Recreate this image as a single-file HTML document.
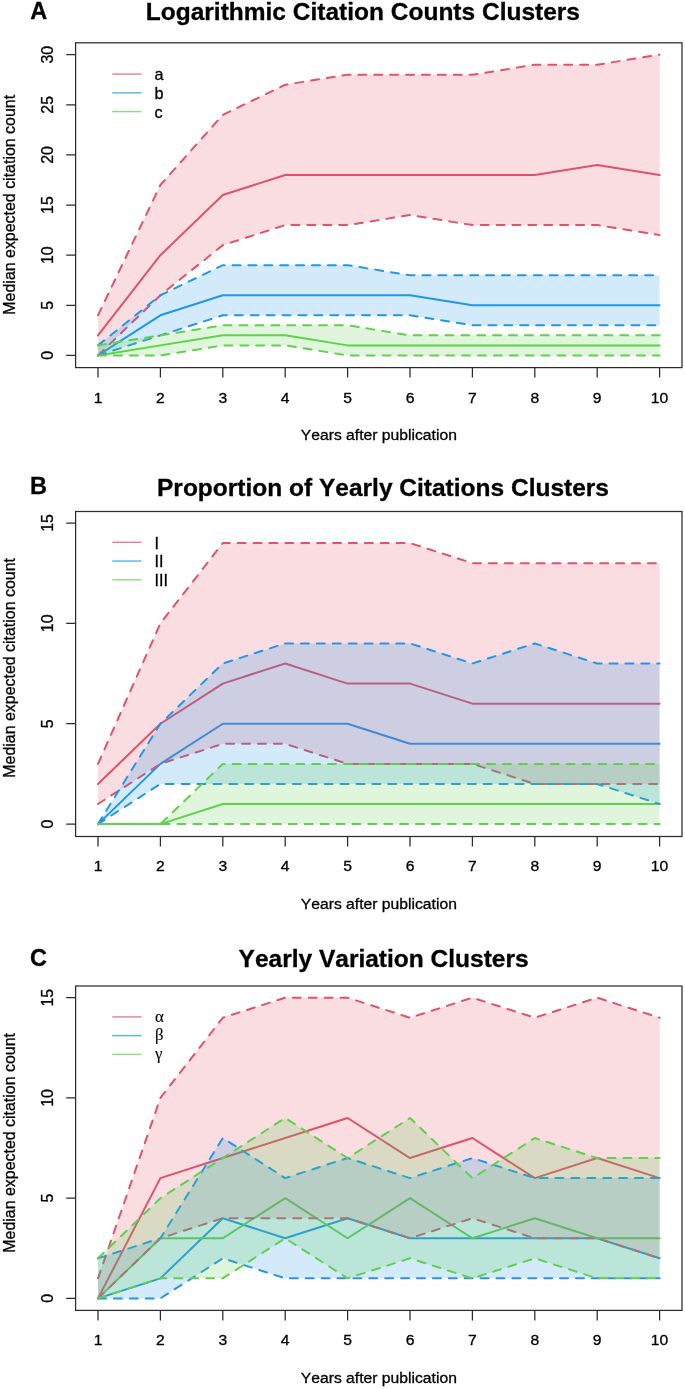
<!DOCTYPE html>
<html lang="en"><head><meta charset="utf-8"><title>Citation clusters</title>
<style>
html,body{margin:0;padding:0;background:#fff;}
body{width:685px;height:1389px;overflow:hidden;}
svg{display:block;}
text{font-family:"Liberation Sans",Arial,Helvetica,sans-serif;fill:#000;font-kerning:none;stroke:#000;stroke-width:0.3;}
.t{font-size:24.5px;font-weight:bold;text-anchor:middle;}
.l{font-size:23.5px;font-weight:bold;}
.a{font-size:15.1px;text-anchor:middle;}
.g{font-size:16.2px;}
.r{font-size:15.95px;text-anchor:middle;}
.gk{stroke-width:0.1;font-family:"Liberation Serif","Times New Roman",serif;font-size:16.8px;}
.ax{stroke:#2b2b2b;stroke-width:1.25;fill:none;stroke-linecap:square;}
.m{fill:none;stroke-width:2;stroke-linecap:round;stroke-linejoin:round;}
.d{fill:none;stroke-width:2;stroke-linecap:round;stroke-linejoin:round;stroke-dasharray:7.95 7.95;}
.p{stroke:none;fill-opacity:0.2;}
.lg{stroke-width:1.4;fill:none;stroke-opacity:0.75;}
</style></head><body>
<svg width="685" height="1389" viewBox="0 0 685 1389">
<rect width="685" height="1389" fill="#fff"/>

<g>
<text class="l" x="30.3" y="18.6">A</text>
<text class="t" x="362.9" y="20.1">Logarithmic Citation Counts Clusters</text>
<polyline class="m" stroke="#DF536B" points="98,335.35 160.4,255.17 222.8,195.03 285.2,174.98 347.6,174.98 410,174.98 472.4,174.98 534.8,174.98 597.2,164.96 659.6,174.98"/>
<polyline class="m" stroke="#2297E6" points="98,355.4 160.4,315.31 222.8,295.26 285.2,295.26 347.6,295.26 410,295.26 472.4,305.28 534.8,305.28 597.2,305.28 659.6,305.28"/>
<polyline class="m" stroke="#61D04F" points="98,355.4 160.4,345.38 222.8,335.35 285.2,335.35 347.6,345.38 410,345.38 472.4,345.38 534.8,345.38 597.2,345.38 659.6,345.38"/>
<polygon class="p" fill="#DF536B" points="98,315.31 160.4,185 222.8,114.84 285.2,84.77 347.6,74.75 410,74.75 472.4,74.75 534.8,64.72 597.2,64.72 659.6,54.7 659.6,235.12 597.2,225.1 534.8,225.1 472.4,225.1 410,215.07 347.6,225.1 285.2,225.1 222.8,245.14 160.4,295.26 98,355.4"/>
<polyline class="d" stroke="#DF536B" points="98,315.31 160.4,185 222.8,114.84 285.2,84.77 347.6,74.75 410,74.75 472.4,74.75 534.8,64.72 597.2,64.72 659.6,54.7"/>
<polyline class="d" stroke="#DF536B" points="98,355.4 160.4,295.26 222.8,245.14 285.2,225.1 347.6,225.1 410,215.07 472.4,225.1 534.8,225.1 597.2,225.1 659.6,235.12"/>
<polygon class="p" fill="#2297E6" points="98,345.38 160.4,295.26 222.8,265.19 285.2,265.19 347.6,265.19 410,275.21 472.4,275.21 534.8,275.21 597.2,275.21 659.6,275.21 659.6,325.33 597.2,325.33 534.8,325.33 472.4,325.33 410,315.31 347.6,315.31 285.2,315.31 222.8,315.31 160.4,335.35 98,355.4"/>
<polyline class="d" stroke="#2297E6" points="98,345.38 160.4,295.26 222.8,265.19 285.2,265.19 347.6,265.19 410,275.21 472.4,275.21 534.8,275.21 597.2,275.21 659.6,275.21"/>
<polyline class="d" stroke="#2297E6" points="98,355.4 160.4,335.35 222.8,315.31 285.2,315.31 347.6,315.31 410,315.31 472.4,325.33 534.8,325.33 597.2,325.33 659.6,325.33"/>
<polygon class="p" fill="#61D04F" points="98,345.38 160.4,335.35 222.8,325.33 285.2,325.33 347.6,325.33 410,335.35 472.4,335.35 534.8,335.35 597.2,335.35 659.6,335.35 659.6,355.4 597.2,355.4 534.8,355.4 472.4,355.4 410,355.4 347.6,355.4 285.2,345.38 222.8,345.38 160.4,355.4 98,355.4"/>
<polyline class="d" stroke="#61D04F" points="98,345.38 160.4,335.35 222.8,325.33 285.2,325.33 347.6,325.33 410,335.35 472.4,335.35 534.8,335.35 597.2,335.35 659.6,335.35"/>
<polyline class="d" stroke="#61D04F" points="98,355.4 160.4,355.4 222.8,345.38 285.2,345.38 347.6,355.4 410,355.4 472.4,355.4 534.8,355.4 597.2,355.4 659.6,355.4"/>
<rect class="ax" x="75.6" y="42.8" width="606.4" height="324.8"/>
<path class="ax" style="stroke-linecap:butt" d="M98 367.6v10M160.4 367.6v10M222.8 367.6v10M285.2 367.6v10M347.6 367.6v10M410 367.6v10M472.4 367.6v10M534.8 367.6v10M597.2 367.6v10M659.6 367.6v10M75.6 355.4h-9.4M75.6 305.28h-9.4M75.6 255.17h-9.4M75.6 205.05h-9.4M75.6 154.93h-9.4M75.6 104.82h-9.4M75.6 54.7h-9.4"/>
<text class="a" transform="translate(98 402.5) scale(1.0397 1)">1</text>
<text class="a" transform="translate(160.4 402.5) scale(1.0397 1)">2</text>
<text class="a" transform="translate(222.8 402.5) scale(1.0397 1)">3</text>
<text class="a" transform="translate(285.2 402.5) scale(1.0397 1)">4</text>
<text class="a" transform="translate(347.6 402.5) scale(1.0397 1)">5</text>
<text class="a" transform="translate(410 402.5) scale(1.0397 1)">6</text>
<text class="a" transform="translate(472.4 402.5) scale(1.0397 1)">7</text>
<text class="a" transform="translate(534.8 402.5) scale(1.0397 1)">8</text>
<text class="a" transform="translate(597.2 402.5) scale(1.0397 1)">9</text>
<text class="a" transform="translate(659.6 402.5) scale(1.0397 1)">10</text>
<text class="r" transform="translate(53.4 355.4) rotate(-90)">0</text>
<text class="r" transform="translate(53.4 305.28) rotate(-90)">5</text>
<text class="r" transform="translate(53.4 255.17) rotate(-90)">10</text>
<text class="r" transform="translate(53.4 205.05) rotate(-90)">15</text>
<text class="r" transform="translate(53.4 154.93) rotate(-90)">20</text>
<text class="r" transform="translate(53.4 104.82) rotate(-90)">25</text>
<text class="r" transform="translate(53.4 54.7) rotate(-90)">30</text>
<text class="a" transform="translate(378.8 440.1) scale(1.0397 1)">Years after publication</text>
<text class="r" transform="translate(15.3 204.8) rotate(-90)">Median expected citation count</text>
<path class="lg" stroke="#DF536B" d="M112.3 74.1H141.5"/>
<text class="g" x="154.6" y="80.3">a</text>
<path class="lg" stroke="#2297E6" d="M112.3 92.85H141.5"/>
<text class="g" x="154.6" y="99.05">b</text>
<path class="lg" stroke="#61D04F" d="M112.3 111.6H141.5"/>
<text class="g" x="154.6" y="117.8">c</text>
</g>
<g>
<text class="l" x="30" y="493.6">B</text>
<text class="t" x="383" y="495.7">Proportion of Yearly Citations Clusters</text>
<polyline class="m" stroke="#DF536B" points="98,783.95 160.4,723.73 222.8,683.59 285.2,663.51 347.6,683.59 410,683.59 472.4,703.66 534.8,703.66 597.2,703.66 659.6,703.66"/>
<polyline class="m" stroke="#2297E6" points="98,824.1 160.4,763.88 222.8,723.73 285.2,723.73 347.6,723.73 410,743.81 472.4,743.81 534.8,743.81 597.2,743.81 659.6,743.81"/>
<polyline class="m" stroke="#61D04F" points="98,824.1 160.4,824.1 222.8,804.03 285.2,804.03 347.6,804.03 410,804.03 472.4,804.03 534.8,804.03 597.2,804.03 659.6,804.03"/>
<polygon class="p" fill="#DF536B" points="98,763.88 160.4,623.37 222.8,543.07 285.2,543.07 347.6,543.07 410,543.07 472.4,563.15 534.8,563.15 597.2,563.15 659.6,563.15 659.6,783.95 597.2,783.95 534.8,783.95 472.4,763.88 410,763.88 347.6,763.88 285.2,743.81 222.8,743.81 160.4,763.88 98,804.03"/>
<polyline class="d" stroke="#DF536B" points="98,763.88 160.4,623.37 222.8,543.07 285.2,543.07 347.6,543.07 410,543.07 472.4,563.15 534.8,563.15 597.2,563.15 659.6,563.15"/>
<polyline class="d" stroke="#DF536B" points="98,804.03 160.4,763.88 222.8,743.81 285.2,743.81 347.6,763.88 410,763.88 472.4,763.88 534.8,783.95 597.2,783.95 659.6,783.95"/>
<polygon class="p" fill="#2297E6" points="98,824.1 160.4,723.73 222.8,663.51 285.2,643.44 347.6,643.44 410,643.44 472.4,663.51 534.8,643.44 597.2,663.51 659.6,663.51 659.6,804.03 597.2,783.95 534.8,783.95 472.4,783.95 410,783.95 347.6,783.95 285.2,783.95 222.8,783.95 160.4,783.95 98,824.1"/>
<polyline class="d" stroke="#2297E6" points="98,824.1 160.4,723.73 222.8,663.51 285.2,643.44 347.6,643.44 410,643.44 472.4,663.51 534.8,643.44 597.2,663.51 659.6,663.51"/>
<polyline class="d" stroke="#2297E6" points="98,824.1 160.4,783.95 222.8,783.95 285.2,783.95 347.6,783.95 410,783.95 472.4,783.95 534.8,783.95 597.2,783.95 659.6,804.03"/>
<polygon class="p" fill="#61D04F" points="98,824.1 160.4,824.1 222.8,763.88 285.2,763.88 347.6,763.88 410,763.88 472.4,763.88 534.8,763.88 597.2,763.88 659.6,763.88 659.6,824.1 597.2,824.1 534.8,824.1 472.4,824.1 410,824.1 347.6,824.1 285.2,824.1 222.8,824.1 160.4,824.1 98,824.1"/>
<polyline class="d" stroke="#61D04F" points="98,824.1 160.4,824.1 222.8,763.88 285.2,763.88 347.6,763.88 410,763.88 472.4,763.88 534.8,763.88 597.2,763.88 659.6,763.88"/>
<polyline class="d" stroke="#61D04F" points="98,824.1 160.4,824.1 222.8,824.1 285.2,824.1 347.6,824.1 410,824.1 472.4,824.1 534.8,824.1 597.2,824.1 659.6,824.1"/>
<rect class="ax" x="75.6" y="511.5" width="606.4" height="325"/>
<path class="ax" style="stroke-linecap:butt" d="M98 836.5v10M160.4 836.5v10M222.8 836.5v10M285.2 836.5v10M347.6 836.5v10M410 836.5v10M472.4 836.5v10M534.8 836.5v10M597.2 836.5v10M659.6 836.5v10M75.6 824.1h-9.4M75.6 723.73h-9.4M75.6 623.37h-9.4M75.6 523h-9.4"/>
<text class="a" transform="translate(98 871.4) scale(1.0397 1)">1</text>
<text class="a" transform="translate(160.4 871.4) scale(1.0397 1)">2</text>
<text class="a" transform="translate(222.8 871.4) scale(1.0397 1)">3</text>
<text class="a" transform="translate(285.2 871.4) scale(1.0397 1)">4</text>
<text class="a" transform="translate(347.6 871.4) scale(1.0397 1)">5</text>
<text class="a" transform="translate(410 871.4) scale(1.0397 1)">6</text>
<text class="a" transform="translate(472.4 871.4) scale(1.0397 1)">7</text>
<text class="a" transform="translate(534.8 871.4) scale(1.0397 1)">8</text>
<text class="a" transform="translate(597.2 871.4) scale(1.0397 1)">9</text>
<text class="a" transform="translate(659.6 871.4) scale(1.0397 1)">10</text>
<text class="r" transform="translate(53.4 824.1) rotate(-90)">0</text>
<text class="r" transform="translate(53.4 723.73) rotate(-90)">5</text>
<text class="r" transform="translate(53.4 623.37) rotate(-90)">10</text>
<text class="r" transform="translate(53.4 523) rotate(-90)">15</text>
<text class="a" transform="translate(378.8 909) scale(1.0397 1)">Years after publication</text>
<text class="r" transform="translate(15.3 667.9) rotate(-90)">Median expected citation count</text>
<path class="lg" stroke="#DF536B" d="M112.3 542.3H141.5"/>
<text class="g" x="154.6" y="548.5">I</text>
<path class="lg" stroke="#2297E6" d="M112.3 561.05H141.5"/>
<text class="g" x="154.6" y="567.25">II</text>
<path class="lg" stroke="#61D04F" d="M112.3 579.8H141.5"/>
<text class="g" x="154.6" y="586">III</text>
</g>
<g>
<text class="l" x="30" y="966">C</text>
<text class="t" x="383.6" y="966.8">Yearly Variation Clusters</text>
<polyline class="m" stroke="#DF536B" points="98,1298.4 160.4,1178.12 222.8,1158.07 285.2,1138.03 347.6,1117.98 410,1158.07 472.4,1138.03 534.8,1178.12 597.2,1158.07 659.6,1178.12"/>
<polyline class="m" stroke="#2297E6" points="98,1298.4 160.4,1278.35 222.8,1218.21 285.2,1238.26 347.6,1218.21 410,1238.26 472.4,1238.26 534.8,1238.26 597.2,1238.26 659.6,1258.31"/>
<polyline class="m" stroke="#61D04F" points="98,1298.4 160.4,1238.26 222.8,1238.26 285.2,1198.17 347.6,1238.26 410,1198.17 472.4,1238.26 534.8,1218.21 597.2,1238.26 659.6,1238.26"/>
<polygon class="p" fill="#DF536B" points="98,1278.35 160.4,1097.93 222.8,1017.75 285.2,997.7 347.6,997.7 410,1017.75 472.4,997.7 534.8,1017.75 597.2,997.7 659.6,1017.75 659.6,1258.31 597.2,1238.26 534.8,1238.26 472.4,1218.21 410,1238.26 347.6,1218.21 285.2,1218.21 222.8,1218.21 160.4,1238.26 98,1298.4"/>
<polyline class="d" stroke="#DF536B" points="98,1278.35 160.4,1097.93 222.8,1017.75 285.2,997.7 347.6,997.7 410,1017.75 472.4,997.7 534.8,1017.75 597.2,997.7 659.6,1017.75"/>
<polyline class="d" stroke="#DF536B" points="98,1298.4 160.4,1238.26 222.8,1218.21 285.2,1218.21 347.6,1218.21 410,1238.26 472.4,1218.21 534.8,1238.26 597.2,1238.26 659.6,1258.31"/>
<polygon class="p" fill="#2297E6" points="98,1258.31 160.4,1238.26 222.8,1138.03 285.2,1178.12 347.6,1158.07 410,1178.12 472.4,1158.07 534.8,1178.12 597.2,1178.12 659.6,1178.12 659.6,1278.35 597.2,1278.35 534.8,1278.35 472.4,1278.35 410,1278.35 347.6,1278.35 285.2,1278.35 222.8,1258.31 160.4,1298.4 98,1298.4"/>
<polyline class="d" stroke="#2297E6" points="98,1258.31 160.4,1238.26 222.8,1138.03 285.2,1178.12 347.6,1158.07 410,1178.12 472.4,1158.07 534.8,1178.12 597.2,1178.12 659.6,1178.12"/>
<polyline class="d" stroke="#2297E6" points="98,1298.4 160.4,1298.4 222.8,1258.31 285.2,1278.35 347.6,1278.35 410,1278.35 472.4,1278.35 534.8,1278.35 597.2,1278.35 659.6,1278.35"/>
<polygon class="p" fill="#61D04F" points="98,1258.31 160.4,1198.17 222.8,1158.07 285.2,1117.98 347.6,1158.07 410,1117.98 472.4,1178.12 534.8,1138.03 597.2,1158.07 659.6,1158.07 659.6,1278.35 597.2,1278.35 534.8,1258.31 472.4,1278.35 410,1258.31 347.6,1278.35 285.2,1238.26 222.8,1278.35 160.4,1278.35 98,1298.4"/>
<polyline class="d" stroke="#61D04F" points="98,1258.31 160.4,1198.17 222.8,1158.07 285.2,1117.98 347.6,1158.07 410,1117.98 472.4,1178.12 534.8,1138.03 597.2,1158.07 659.6,1158.07"/>
<polyline class="d" stroke="#61D04F" points="98,1298.4 160.4,1278.35 222.8,1278.35 285.2,1238.26 347.6,1278.35 410,1258.31 472.4,1278.35 534.8,1258.31 597.2,1278.35 659.6,1278.35"/>
<rect class="ax" x="75.6" y="986" width="606.4" height="324.4"/>
<path class="ax" style="stroke-linecap:butt" d="M98 1310.4v10M160.4 1310.4v10M222.8 1310.4v10M285.2 1310.4v10M347.6 1310.4v10M410 1310.4v10M472.4 1310.4v10M534.8 1310.4v10M597.2 1310.4v10M659.6 1310.4v10M75.6 1298.4h-9.4M75.6 1198.17h-9.4M75.6 1097.93h-9.4M75.6 997.7h-9.4"/>
<text class="a" transform="translate(98 1345.3) scale(1.0397 1)">1</text>
<text class="a" transform="translate(160.4 1345.3) scale(1.0397 1)">2</text>
<text class="a" transform="translate(222.8 1345.3) scale(1.0397 1)">3</text>
<text class="a" transform="translate(285.2 1345.3) scale(1.0397 1)">4</text>
<text class="a" transform="translate(347.6 1345.3) scale(1.0397 1)">5</text>
<text class="a" transform="translate(410 1345.3) scale(1.0397 1)">6</text>
<text class="a" transform="translate(472.4 1345.3) scale(1.0397 1)">7</text>
<text class="a" transform="translate(534.8 1345.3) scale(1.0397 1)">8</text>
<text class="a" transform="translate(597.2 1345.3) scale(1.0397 1)">9</text>
<text class="a" transform="translate(659.6 1345.3) scale(1.0397 1)">10</text>
<text class="r" transform="translate(53.4 1298.4) rotate(-90)">0</text>
<text class="r" transform="translate(53.4 1198.17) rotate(-90)">5</text>
<text class="r" transform="translate(53.4 1097.93) rotate(-90)">10</text>
<text class="r" transform="translate(53.4 997.7) rotate(-90)">15</text>
<text class="a" transform="translate(378.8 1382.9) scale(1.0397 1)">Years after publication</text>
<text class="r" transform="translate(15.3 1142.9) rotate(-90)">Median expected citation count</text>
<path class="lg" stroke="#DF536B" d="M112.3 1016.9H141.5"/>
<text class="gk" x="155" y="1021.7">α</text>
<path class="lg" stroke="#2297E6" d="M112.3 1035.65H141.5"/>
<text class="gk" x="155" y="1040.45">β</text>
<path class="lg" stroke="#61D04F" d="M112.3 1054.4H141.5"/>
<text class="gk" x="155" y="1059.2">γ</text>
</g>
</svg></body></html>
